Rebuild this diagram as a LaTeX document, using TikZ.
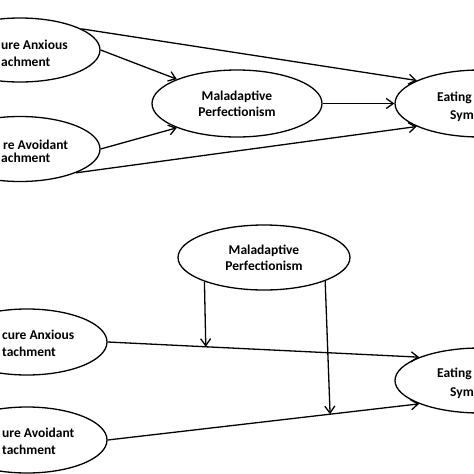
\documentclass[tikz,border=0pt]{standalone}
\usepackage{fontspec}
\setmainfont{Carlito}
\usetikzlibrary{positioning, calc, arrows.meta, shapes.geometric}

\begin{document}
\begin{tikzpicture}[x=1pt, y=-1pt,
    every node/.style={font=\fontsize{13.5}{16}\selectfont\bfseries},
    latent/.style={draw, ellipse, line width=1.3pt, inner sep=0pt, align=center},
    link/.style={-{Straight Barb[length=7pt, width=10pt]}, line width=1.3pt},
    frag/.style={inner sep=0pt}]
    \useasboundingbox (0,0) rectangle (474,474);
    \fill[white] (0,0) rectangle (474,474);
    \clip (0,0) rectangle (474,474);

    % mediation model
    \node[latent, minimum width=160pt, minimum height=64pt] (anxA) at (20, 50) {};
    \node[latent, minimum width=160pt, minimum height=65pt] (avoA) at (20, 149) {};
    \node[latent, minimum width=170pt, minimum height=67pt] (malA) at (237, 103.5) {Maladaptive\\Perfectionism};
    \node[latent, minimum width=170pt, minimum height=67pt] (eatA) at (480, 103.5) {};

    \node[frag, anchor=base west] (anxAa) at (1, 49) {ure Anxious};
    \node[frag, anchor=base west] (anxAb) at (1, 66) {achment};
    \node[frag, anchor=base west] (avoAa) at (3, 149) {re Avoidant};
    \node[frag, anchor=base west] (avoAb) at (1, 162) {achment};
    \node[frag, anchor=base west] (eatAa) at (437, 101) {Eating};
    \node[frag, anchor=base west] (eatAb) at (450, 119) {Sym};

    \draw[link] (anxA.19) -- (eatA.160);
    \draw[link] (anxA.east) -- (malA.158);
    \draw[link] (avoA.east) -- (malA.202);
    \draw[link] (avoA.-23) -- (eatA.200);
    \draw[link] (malA.east) -- (eatA.west);

    % moderation model
    \node[latent, minimum width=172pt, minimum height=65pt] (malB) at (264, 257.5) {Maladaptive\\Perfectionism};
    \node[latent, minimum width=160pt, minimum height=66pt] (anxB) at (27, 342) {};
    \node[latent, minimum width=160pt, minimum height=66pt] (avoB) at (27, 440) {};
    \node[latent, minimum width=170pt, minimum height=65pt] (eatB) at (480, 380.5) {};

    \node[frag, anchor=base west] (anxBa) at (2, 339) {cure Anxious};
    \node[frag, anchor=base west] (anxBb) at (2, 356) {tachment};
    \node[frag, anchor=base west] (avoBa) at (2, 437) {ure Avoidant};
    \node[frag, anchor=base west] (avoBb) at (2, 454) {tachment};
    \node[frag, anchor=base west] (eatBa) at (437, 377) {Eating};
    \node[frag, anchor=base west] (eatBb) at (450, 396) {Sym};

    \draw[link] (anxB.east) -- (eatB.159);
    \draw[link] (avoB.east) -- (eatB.201);
    \coordinate (modA) at ($(anxB.east)!0.315!(eatB.159)$);
    \coordinate (modB) at ($(avoB.east)!0.714!(eatB.201)$);
    \draw[link] (malB.202) -- (modA);
    \draw[link] (malB.-21) -- (modB);
\end{tikzpicture}
\end{document}
